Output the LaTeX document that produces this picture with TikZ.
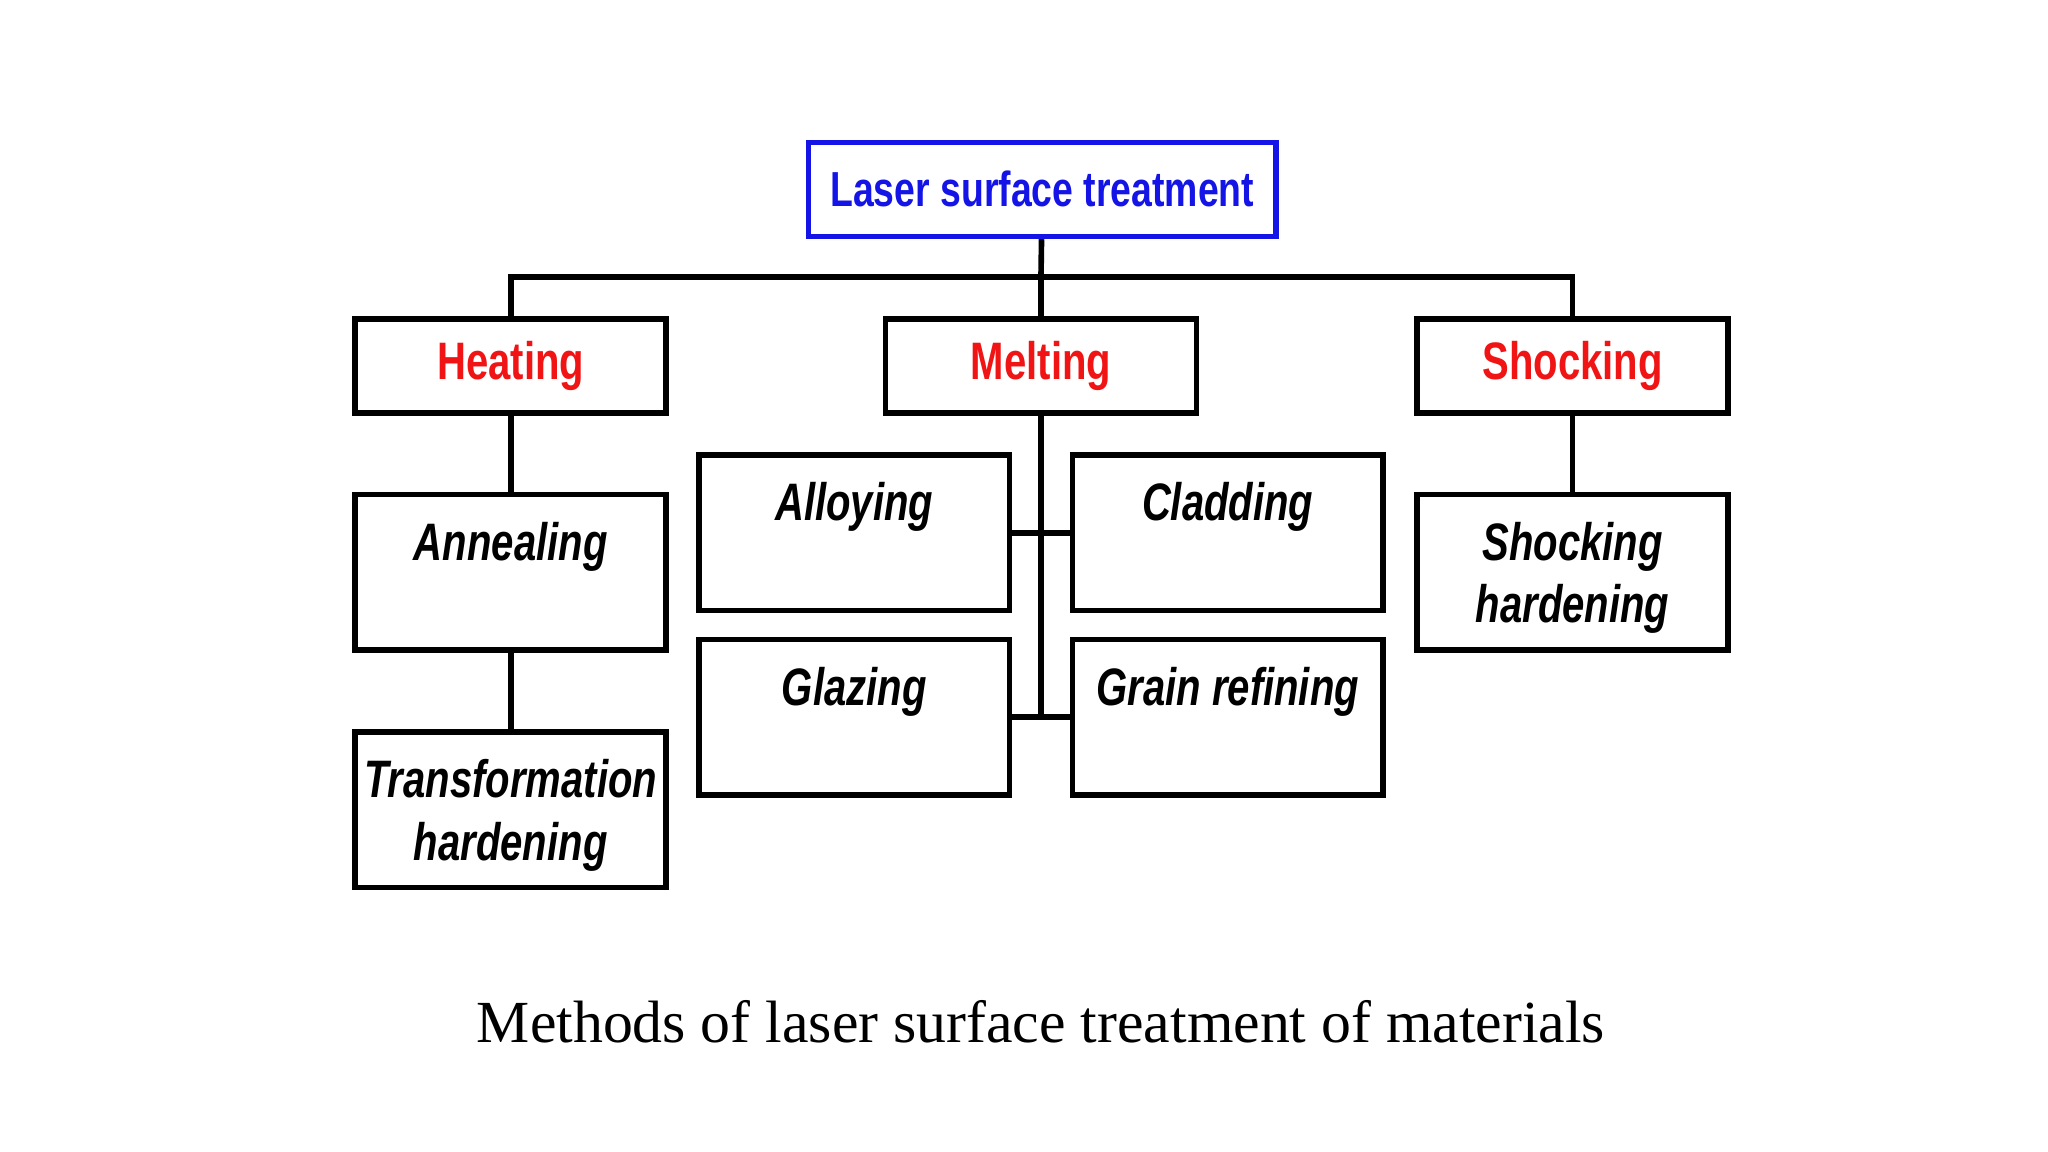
\documentclass[tikz,border=0pt]{standalone}
\usepackage{fontspec}
\setmainfont{Liberation Serif}
\newfontfamily\narrowsf{Liberation Sans}[FakeStretch=0.76]
\usetikzlibrary{positioning}
\definecolor{laserblue}{RGB}{20,20,230}
\definecolor{headred}{RGB}{240,20,20}
\begin{document}
\begin{tikzpicture}[x=0.01306cm,y=-0.01306cm,
  box/.style={draw,line width=1.6pt,minimum width=238*0.01306cm,inner sep=0pt},
  small/.style={box,minimum height=72*0.01306cm},
  big/.style={box,minimum height=119*0.01306cm},
  head/.style={font=\narrowsf\bfseries\fontsize{15}{18}\selectfont,text=headred},
  item/.style={font=\narrowsf\bfseries\itshape\fontsize{15}{17.8}\selectfont,align=center,anchor=north},
  link/.style={line width=1.6pt}]
\useasboundingbox (0,0) rectangle (1568,882);

\node[box,draw=laserblue,minimum width=358*0.01306cm,minimum height=72*0.01306cm,
  font=\narrowsf\bfseries\fontsize{14}{18}\selectfont,text=laserblue] (root) at (798,145) {Laser surface treatment};

\node[small,head] (heat) at (391,280) {Heating};
\node[small,head] (melt) at (797,280) {Melting};
\node[small,head] (shock) at (1204,280) {Shocking};

\node[big] (anneal) at (391,438) {};
\node[big] (trans) at (391,620) {};
\node[big] (alloy) at (654,408) {};
\node[big] (clad) at (940,408) {};
\node[big] (glaze) at (654,549) {};
\node[big] (grain) at (940,549) {};
\node[big] (shockh) at (1204,438) {};

\node[item] at ([yshift=-0.18cm]anneal.north) (tanneal) {Annealing};
\node[item] at ([yshift=-0.18cm]trans.north) (ttrans) {Transformation\\hardening};
\node[item] at ([yshift=-0.18cm]alloy.north) (talloy) {Alloying};
\node[item] at ([yshift=-0.18cm]clad.north) (tclad) {Cladding};
\node[item] at ([yshift=-0.18cm]glaze.north) (tglaze) {Glazing};
\node[item] at ([yshift=-0.18cm]grain.north) (tgrain) {Grain refining};
\node[item] at ([yshift=-0.18cm]shockh.north) (tshockh) {Shocking\\hardening};

\coordinate (bar) at (797,212);
\coordinate (j1) at (797,408);
\coordinate (j2) at (797,549);

\draw[link] (root) -- (bar);
\draw[link] (heat.north) |- (bar) -| (shock.north);
\draw[link] (bar) -- (melt);
\draw[link] (melt) -- (j2);
\draw[link] (alloy) -- (clad);
\draw[link] (glaze) -- (grain);
\draw[link] (heat) -- (anneal);
\draw[link] (anneal) -- (trans);
\draw[link] (shock) -- (shockh);

\node[font=\fontsize{17}{20}\selectfont] (caption) at (797,782) {Methods of laser surface treatment of materials};
\end{tikzpicture}
\end{document}
